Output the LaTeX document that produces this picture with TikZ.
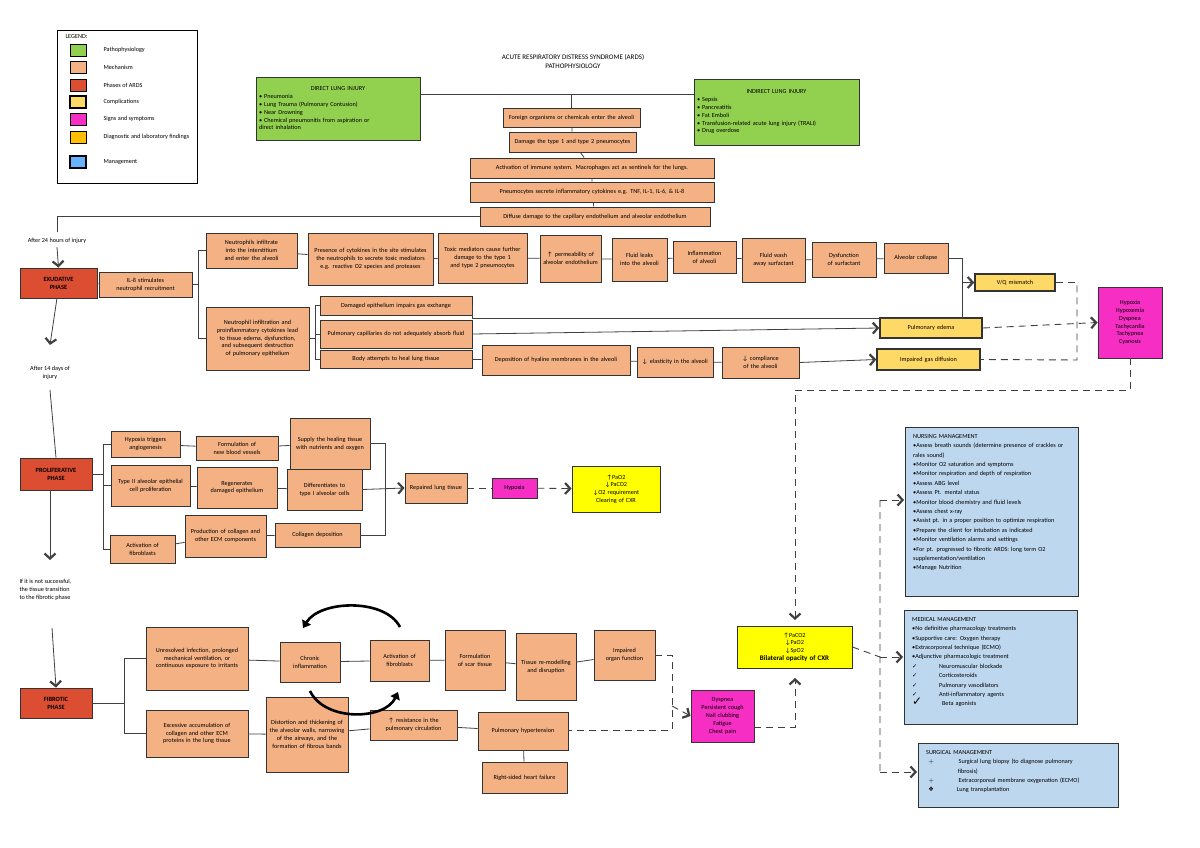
\documentclass[tikz,border=0pt]{standalone}
\usepackage{fontspec}
\setmainfont{Carlito}
\newfontfamily\dv{DejaVu Sans}
\usetikzlibrary{arrows.meta}
\definecolor{peach}{HTML}{F4B183}
\definecolor{phase}{HTML}{DC4E32}
\definecolor{patho}{HTML}{92D050}
\definecolor{comp}{HTML}{FFD966}
\definecolor{sign}{HTML}{F62EC4}
\definecolor{diag}{HTML}{FFFF00}
\definecolor{mgmt}{HTML}{BDD7EE}
\newcommand\bx[7]{\node[box,#6,minimum width={(#4-#2)*1pt},minimum height={(#5-#3)*1pt},text width={(#4-#2-6)*1pt}] (#1) at ({(#2+#4)/2},{(#3+#5)/2}) {#7};}
\newcommand\mbx[6]{\draw[box,fill=mgmt] (#2,#3) rectangle (#4,#5);
 \node[font=\fontsize{6.2}{9.4}\selectfont,align=left,anchor=north west,text width={(#4-#2-14)*1pt},inner sep=0pt,execute at begin node=\hyphenpenalty10000] (#1) at (#2+8,#3+7) {#6};}
\newcommand\ck{{\dv\char"2713}}
\begin{document}
\begin{tikzpicture}[x=1pt,y=-1pt,
 box/.style={draw=black!80,line width=0.9pt,inner sep=1pt,align=center,font=\fontsize{6.2}{7.8}\selectfont,execute at begin node=\hyphenpenalty10000},
 mech/.style={fill=peach}, ph/.style={fill=phase,font=\fontsize{6.4}{8}\selectfont\bfseries},
 pat/.style={fill=patho,align=left}, cmp/.style={fill=comp,line width=1.5pt},
 sg/.style={fill=sign}, dg/.style={fill=diag},
 ln/.style={draw=black!75,line width=0.8pt},
 dl/.style={draw=black!75,line width=0.9pt,dash pattern=on 7pt off 5pt},
 chev/.style={-{Straight Barb[length=5pt,width=11pt,line width=2.2pt]}},
 lab/.style={font=\fontsize{6.2}{7.8}\selectfont,align=center}]
\useasboundingbox[fill=white] (0,0) rectangle (1200,848);
% legend
\draw[line width=0.8pt] (57,30) rectangle (197,183);
\node[lab,anchor=west] at (62,37) {LEGEND:};
\foreach \y/\c/\t/\w in {50/patho/Pathophysiology/0.8,67/peach/Mechanism/0.8,85/phase/Phases of ARDS/0.8,102/comp/Complications/1.4,119/sign/Signs and symptoms/0.8,137/{diag!50!orange}/Diagnostic and laboratory findings/0.8,162/{blue!50!cyan!60}/Management/1.4}{
 \draw[fill=\c,line width=\w pt] (70,\y-6) rectangle (86,\y+6);
 \node[lab,anchor=west] at (100,\y) {\t};}
\node[lab,font=\fontsize{7}{9}\selectfont] at (573,61) {ACUTE RESPIRATORY DISTRESS SYNDROME (ARDS)\\PATHOPHYSIOLOGY};
% top
\bx{direct}{256}{77}{420}{140}{pat}{\centering DIRECT LUNG INJURY\par\raggedright
 • Pneumonia\\ • Lung Trauma (Pulmonary Contusion)\\ • Near Drowning\\ • Chemical pneumonitis from aspiration or\\ direct inhalation}
\bx{indirect}{694}{79}{859}{145}{pat}{\centering INDIRECT LUNG INJURY\par\raggedright
 • Sepsis\\ • Pancreatitis\\ • Fat Emboli\\ • Transfusion-related acute lung injury (TRALI)\\ • Drug overdose}
\bx{b1}{503}{108}{640}{127}{mech}{Foreign organisms or chemicals enter the alveoli}
\bx{b2}{509}{132}{636}{152}{mech}{Damage the type 1 and type 2 pneumocytes}
\bx{b3}{470}{158}{714}{178}{mech}{Activation of immune system. Macrophages act as sentinels for the lungs.}
\bx{b4}{470}{182}{714}{202}{mech}{Pneumocytes secrete inflammatory cytokines e.g. TNF, IL-1, IL-6, \& IL-8}
\bx{b5}{480}{207}{710}{226}{mech}{Diffuse damage to the capillary endothelium and alveolar endothelium}
\draw[ln] (direct.east|-0,94) -- (indirect.west|-0,94);
\draw[ln] (b1.north|-0,94) -- (b1.north);
\draw[ln] (b1)--(b2) (b2)--(b3) (b3)--(b4) (b4)--(b5);
\coordinate (t24) at (57,232);
\draw[ln] (b5.west) -- (57,216.5) -- (t24);
\node[lab] (a24) at (57,241) {After 24 hours of injury};
% exudative
\bx{ex}{20}{268}{97}{298}{ph}{EXUDATIVE\\PHASE}
\draw[ln,chev] (a24.south) -- (ex.north);
\bx{il}{99}{272}{192}{297}{mech}{IL-8 stimulates neutrophil recruitment}
\draw[ln] (ex)--(il);
\bx{n1}{206}{233}{297}{268}{mech}{Neutrophils infiltrate into the interstitium and enter the alveoli}
\bx{n2}{308}{233}{433}{285}{mech}{Presence of cytokines in the site stimulates the neutrophils to secrete toxic mediators e.g. reactive O2 species and proteases}
\bx{n3}{438}{233}{527}{283}{mech}{Toxic mediators cause further damage to the type 1 and type 2 pneumocytes}
\bx{n4}{540}{235}{601}{282}{mech}{↑ permeability of alveolar endothelium}
\bx{n5}{612}{238}{667}{281}{mech}{Fluid leaks into the alveoli}
\bx{n6}{673}{241}{736}{273}{mech}{Inflammation of alveoli}
\bx{n7}{742}{238}{805}{282}{mech}{Fluid wash away surfactant}
\bx{n8}{812}{242}{876}{277}{mech}{Dysfunction of surfactant}
\bx{n9}{884}{243}{948}{273}{mech}{Alveolar collapse}
\bx{n10}{206}{307}{309}{370}{mech}{Neutrophil infiltration and proinflammatory cytokines lead to tissue edema, dysfunction, and subsequent destruction of pulmonary epithelium}
\draw[ln] (il.east) -- (198,284.5) (198,255) |- (n1.west) (198,255) |- (n10.west);
\draw[ln] (n1)--(n2) (n2)--(n3) (n3)--(n4) (n4)--(n5) (n5)--(n6) (n6)--(n7) (n7)--(n8) (n8)--(n9);
\bx{d1}{320}{296}{472}{315}{mech}{Damaged epithelium impairs gas exchange}
\bx{d2}{320}{320}{472}{348}{mech}{Pulmonary capillaries do not adequately absorb fluid}
\bx{d3}{320}{350}{472}{368}{mech}{Body attempts to heal lung tissue}
\draw[ln] (n10.east) -- (315,338.5) (315,305.5) |- (d1.west) (315,305.5) |- (d3.west) (315,334) -- (d2.west);
\bx{vq}{975}{274}{1055}{291}{cmp}{V/Q mismatch}
\bx{ed}{880}{318}{982}{338}{cmp}{Pulmonary edema}
\bx{ig}{877}{349}{980}{370}{cmp}{Impaired gas diffusion}
\bx{e1}{482}{345}{630}{375}{mech}{Deposition of hyaline membranes in the alveoli}
\bx{e2}{637}{347}{713}{377}{mech}{↓ elasticity in the alveoli}
\bx{e3}{722}{347}{799}{378}{mech}{↓ compliance of the alveoli}
\draw[ln] (n9.east) -- (962,258) -- (962,318) -- (d1.east|-0,318) -- (d1.east);
\draw[ln,chev] (962,282.5) -- (vq.west);
\draw[ln,chev] (d2.east) -- (ed.west);
\draw[ln] (d3)--(e1) (e1)--(e2) (e2)--(e3);
\draw[ln,chev] (e3.east) -- (ig.west);
\bx{ss}{1098}{287}{1162}{358}{sg}{Hypoxia\\Hypoxemia\\Dyspnea\\Tachycardia\\Tachypnea\\Cyanosis}
\draw[dl] (vq.east) -| (1077,360) -- (ig.east);
\draw[dl,chev] (ed.east) -- (ss.west);
% proliferative
\node[lab] (a14) at (50,373) {After 14 days of\\injury};
\draw[ln,chev] (57,298) -- (50,345);
\bx{pr}{20}{458}{92}{490}{ph}{PROLIFERATIVE\\PHASE}
\draw[ln] (50,390) -- (pr.north);
\bx{p1}{111}{431}{180}{457}{mech}{Hypoxia triggers angiogenesis}
\bx{p2}{196}{436}{278}{460}{mech}{Formulation of new blood vessels}
\bx{p3}{290}{418}{370}{469}{mech}{Supply the healing tissue with nutrients and oxygen}
\bx{p4}{111}{465}{190}{506}{mech}{Type II alveolar epithelial cell proliferation}
\bx{p5}{197}{467}{277}{508}{mech}{Regenerates damaged epithelium}
\bx{p6}{287}{469}{362}{510}{mech}{Differentiates to type I alveolar cells}
\bx{p7}{110}{535}{175}{563}{mech}{Activation of fibroblasts}
\bx{p8}{185}{515}{266}{557}{mech}{Production of collagen and other ECM components}
\bx{p9}{275}{523}{360}{547}{mech}{Collagen deposition}
\draw[ln] (pr.east) -- (103,474) (103,444) |- (p1.west) (103,444) |- (p7.west) (103,485.5) -- (p4.west);
\draw[ln] (p1)--(p2) (p2)--(p3) (p4)--(p5) (p5)--(p6) (p7)--(p8) (p8)--(p9);
\bx{r1}{405}{473}{467}{503}{mech}{Repaired lung tissue}
\bx{hy}{492}{478}{537}{498}{sg}{Hypoxia}
\bx{y1}{572}{466}{660}{512}{dg}{↑PaO2\\↓PaCO2\\↓O2 requirement\\Clearing of CXR}
\draw[ln] (p3.east) -| (385,535) -- (p9.east);
\draw[ln,chev] (p6.east) -- (r1.west);
\draw[dl] (r1)--(hy);
\draw[dl,chev] (hy)--(y1);
% fibrotic
\draw[ln,chev] (50,490) -- (50,560);
\node[lab,align=left,anchor=west] (ifn) at (16,590) {If it is not successful,\\the tissue transition\\to the fibrotic phase};
\bx{fb}{20}{688}{92}{718}{ph}{FIBROTIC\\PHASE}
\draw[ln,chev] (52,628) -- (fb.north);
\bx{f1}{146}{627}{248}{690}{mech}{Unresolved infection, prolonged mechanical ventilation, or continuous exposure to irritants}
\bx{f2}{280}{642}{340}{682}{mech}{Chronic inflammation}
\bx{f3}{370}{640}{429}{681}{mech}{Activation of fibroblasts}
\bx{f4}{445}{630}{505}{690}{mech}{Formulation of scar tissue}
\bx{f5}{516}{633}{576}{700}{mech}{Tissue re-modelling and disruption}
\bx{f6}{594}{630}{655}{680}{mech}{Impaired organ function}
\bx{g1}{146}{710}{248}{757}{mech}{Excessive accumulation of collagen and other ECM proteins in the lung tissue}
\bx{g2}{266}{697}{348}{772}{mech}{Distortion and thickening of the alveolar walls, narrowing of the airways, and the formation of fibrous bands}
\bx{g3}{370}{710}{457}{740}{mech}{↑ resistance in the pulmonary circulation}
\bx{g4}{478}{712}{568}{750}{mech}{Pulmonary hypertension}
\bx{h1}{482}{762}{567}{793}{mech}{Right-sided heart failure}
\draw[ln] (fb.east) -- (124,703) (124,658) |- (f1.west) (124,658) |- (g1.west);
\draw[ln] (f1)--(f2) (f2)--(f3) (f3)--(f4) (f4)--(f5) (f5)--(f6) (g1)--(g2) (g2)--(g3) (g3)--(g4) (g4)--(h1);
\draw[line width=2.6pt,-{Triangle[length=7pt,width=10pt]}] (400,627) .. controls (385,598) and (320,600) .. (303,628);
\draw[line width=2.6pt,-{Triangle[length=7pt,width=10pt]}] (310,691) .. controls (325,722) and (385,720) .. (398,692);
\bx{s2}{691}{690}{754}{742}{sg}{Dyspnea\\Persistent cough\\Nail clubbing\\Fatigue\\Chest pain}
\draw[dl] (f6.east) -| (672,730) -- (g4.east|-0,730);
\draw[dl,chev] (672,706) -- (s2.west);
% diagnostics and management
\bx{dx}{737}{626}{852}{668}{dg}{↑PaCO2\\↓PaO2\\↓SpO2\\{\fontsize{7}{8}\selectfont\bfseries Bilateral opacity of CXR}}
\draw[dl,chev] (ss.south) -- (1130,390) -| (795,620);
\draw[dl,chev] (s2.east|-0,727) -| (795,678);
\mbx{nm}{905}{427}{1078}{596}{NURSING MANAGEMENT\\•Assess breath sounds (determine presence of crackles or rales sound)\\•Monitor O2 saturation and symptoms\\•Monitor respiration and depth of respiration\\•Assess ABG level\\•Assess Pt. mental status\\•Monitor blood chemistry and fluid levels\\•Assess chest x-ray\\•Assist pt. in a proper position to optimize respiration\\•Prepare the client for intubation as indicated\\•Monitor ventilation alarms and settings\\•For pt. progressed to fibrotic ARDS: long term O2 supplementation/ventilation\\•Manage Nutrition}
\mbx{md}{904}{610}{1077}{724}{MEDICAL MANAGEMENT\\•No definitive pharmacology treatments\\•Supportive care: Oxygen therapy\\•Extracorporeal technique (ECMO)\\•Adjunctive pharmacologic treatment\\\ck\hspace{3.5em}Neuromuscular blockade\\\ck\hspace{3.5em}Corticosteroids\\\ck\hspace{3.5em}Pulmonary vasodilators\\\ck\hspace{3.5em}Anti-inflammatory agents\\{\large\ck}\hspace{3.2em}Beta agonists}
\mbx{sm}{918}{743}{1118}{807}{SURGICAL MANAGEMENT\\\ $+$\hspace{4em}Surgical lung biopsy (to diagnose pulmonary\\\hspace{5.1em}fibrosis)\\\ $+$\hspace{4em}Extracorporeal membrane oxygenation (ECMO)\\\ {\dv\char"2756}\hspace{3.7em}Lung transplantation}
\draw[dl] (dx.east) -- (880,657) (880,500) -- (880,772);
\draw[dl,chev] (880,500) -- (904,500);
\draw[dl,chev] (880,657) -- (903,657);
\draw[dl,chev] (880,772) -- (917,772);
\end{tikzpicture}
\end{document}
